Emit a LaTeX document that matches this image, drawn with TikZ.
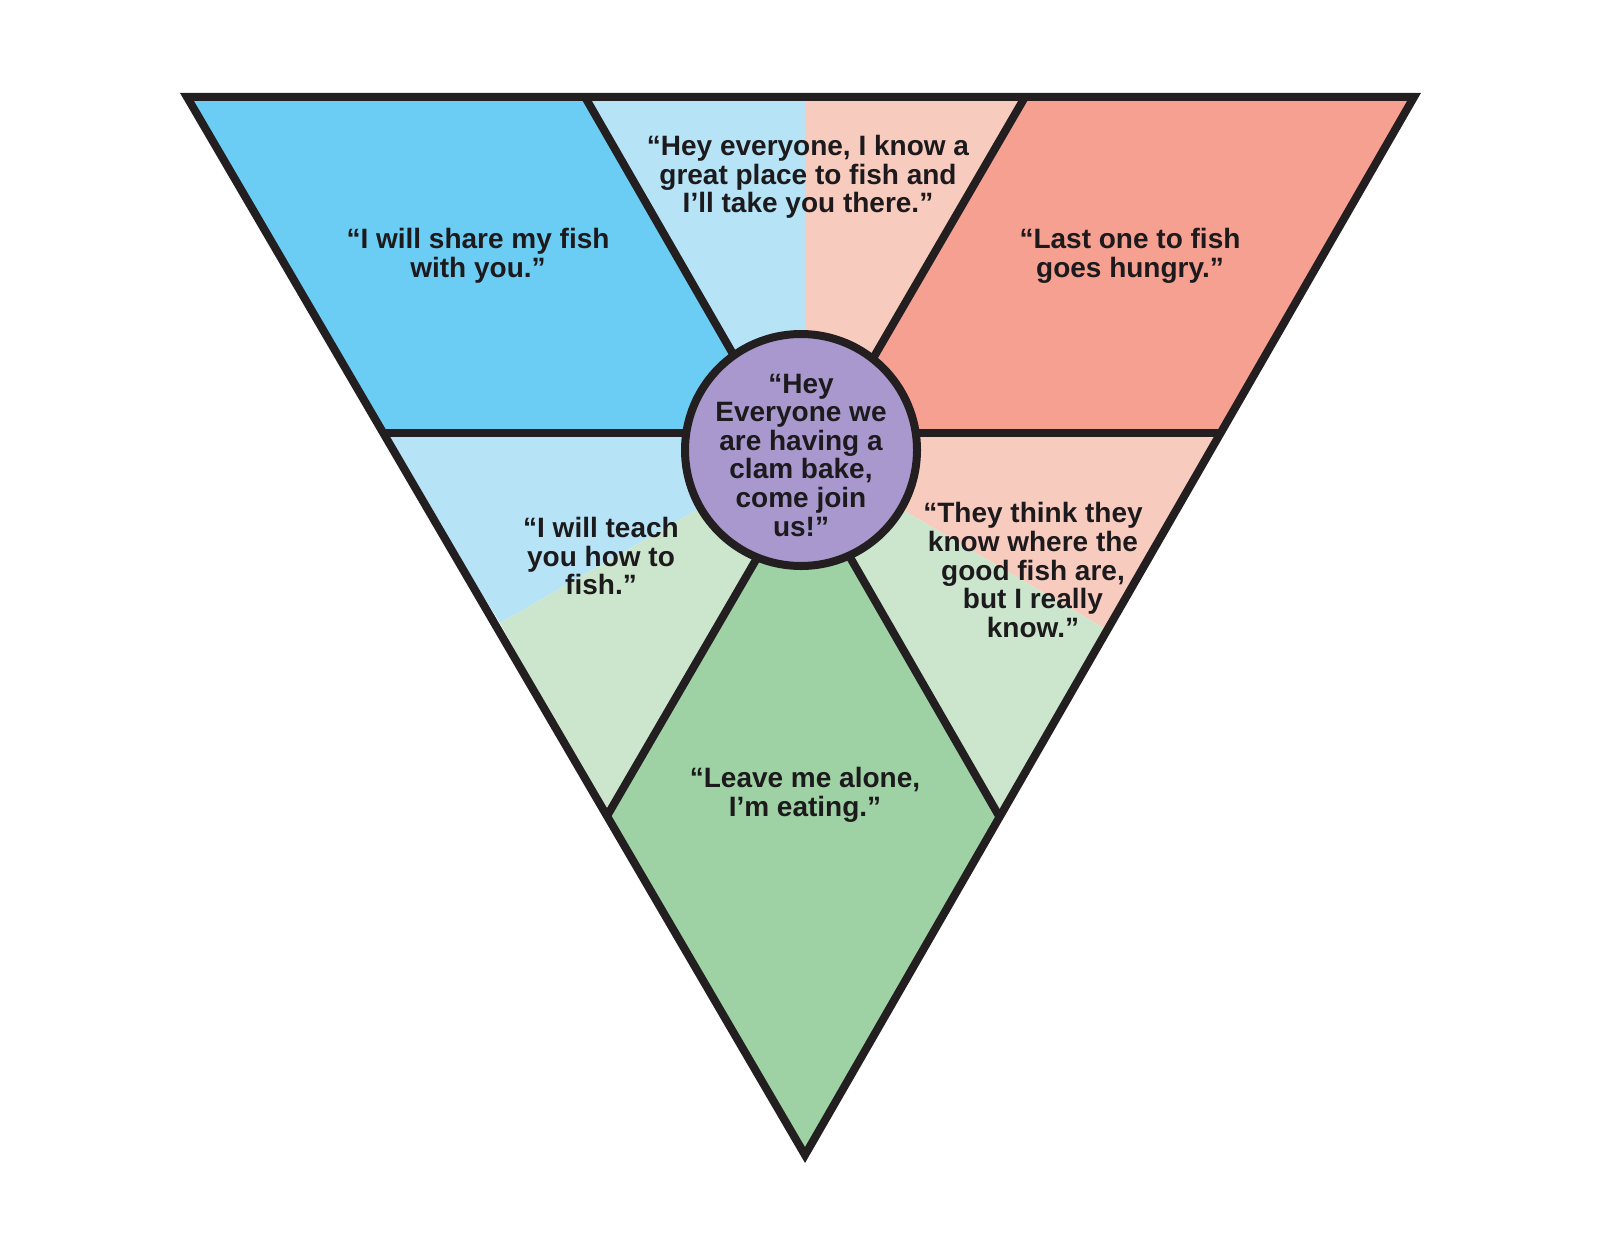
\documentclass[tikz,border=0pt]{standalone}
\usepackage{fontspec}
\setmainfont{Liberation Sans}
\definecolor{cblue}{HTML}{6CCDF4}
\definecolor{clblue}{HTML}{B7E3F7}
\definecolor{clpink}{HTML}{F8CBBF}
\definecolor{csalmon}{HTML}{F5A091}
\definecolor{clgreen}{HTML}{CCE6CD}
\definecolor{cgreen}{HTML}{9ED1A4}
\definecolor{cpurple}{HTML}{A998CD}
\definecolor{cline}{HTML}{231F20}
\definecolor{ctext}{HTML}{1C1A1C}
\begin{document}
\begin{tikzpicture}[x=1pt,y=-1pt,
  edge/.style={draw=cline,line width=8pt,line join=miter,line cap=butt},
  hub/.style={circle,draw=cline,fill=cpurple,line width=8pt,minimum size=232pt,inner sep=0pt},
  quote/.style={text=ctext,align=center,inner sep=0pt,font=\fontsize{28}{28.6}\selectfont\bfseries}]
\useasboundingbox (0,0) rectangle (1600,1236);
% key points
\coordinate (A) at (187,97);
\coordinate (B) at (1414,97);
\coordinate (C) at (805,1155);
\coordinate (P1) at (585,97);
\coordinate (P2) at (999,816);
\coordinate (P3) at (1025,97);
\coordinate (P4) at (607,816);
\coordinate (HL) at (383,433);
\coordinate (HR) at (1220,433);
% fills
\fill[cblue] (A) -- (P1) -- (778,433) -- (HL) -- cycle;
\fill[clblue] (P1) -- (805,97) -- (805,433) -- (778,433) -- cycle;
\fill[clpink] (805,97) -- (P3) -- (829,433) -- (805,433) -- cycle;
\fill[csalmon] (P3) -- (B) -- (HR) -- (829,433) -- cycle;
\fill[clblue] (HL) -- (805,433) -- (801,450) -- (500,623) -- cycle;
\fill[clgreen] (500,623) -- (801,450) -- (804,477) -- (P4) -- cycle;
\fill[clpink] (805,433) -- (HR) -- (1107,630) -- (801,450) -- cycle;
\fill[clgreen] (801,450) -- (1107,630) -- (P2) -- (804,477) -- cycle;
\fill[cgreen] (804,477) -- (P2) -- (C) -- (P4) -- cycle;
% lines
\draw[edge] (P1) -- (P2);
\draw[edge] (P3) -- (P4);
\draw[edge] (HL) -- (HR);
\draw[edge] (A) -- (B) -- (C) -- cycle;
% hub
\node[hub] (hub) at (801,450) {};
% texts
\node[quote] (hubtext) at (801,455) {“Hey\\Everyone we\\are having a\\clam bake,\\come join\\us!”};
\node[quote] (share) at (478,256) {“I will share my fish\\with you.”};
\node[quote] (place) at (808,177) {“Hey everyone, I know a\\great place to fish and\\I’ll take you there.”};
\node[quote] (last) at (1130,256) {“Last one to fish\\goes hungry.”};
\node[quote] (teach) at (601,556) {“I will teach\\you how to\\fish.”};
\node[quote] (think) at (1033,570) {“They think they\\know where the\\good fish are,\\but I really\\know.”};
\node[quote] (alone) at (805,795) {“Leave me alone,\\I’m eating.”};
\end{tikzpicture}
\end{document}
